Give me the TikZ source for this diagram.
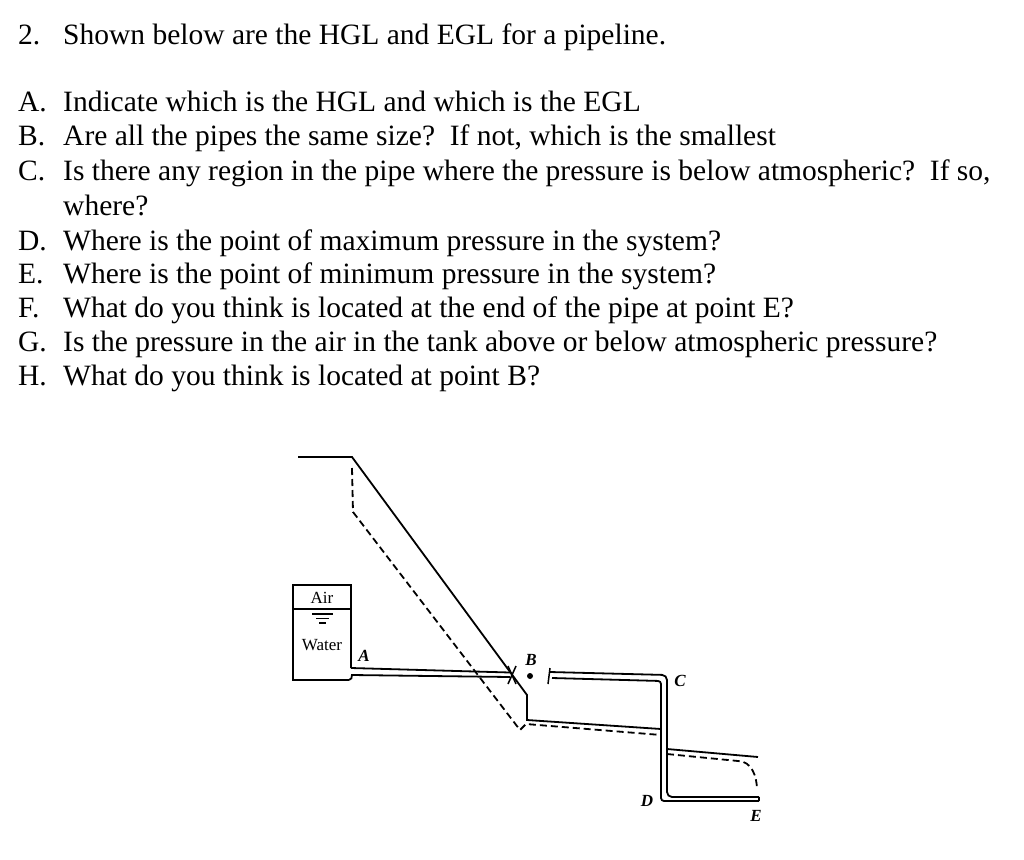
\documentclass[tikz,border=0pt]{standalone}
\usepackage{fontspec}
\setmainfont{Liberation Serif}
\begin{document}
\begin{tikzpicture}[x=1pt,y=-1pt,
  q/.style={anchor=base west,inner sep=0,font=\fontsize{29.5}{29.5}\selectfont},
  lbl/.style={inner sep=0,font=\fontsize{17}{17}\selectfont\itshape\bfseries},
  egl/.style={line width=1.8pt},
  hgl/.style={line width=1.8pt,dash pattern=on 7pt off 4pt},
  pipe/.style={line width=1.8pt}]
\useasboundingbox (0,0) rectangle (1024,859);
\node[q] (n2) at (18,45) {2.};
\node[q] (t2) at (63,45) {Shown below are the HGL and EGL for a pipeline.};
\node[q] (l1) at (18,111) {A.};
\node[q] (t1) at (63,111) {Indicate which is the HGL and which is the EGL};
\node[q] (l2) at (18,145) {B.};
\node[q] (t2b) at (63,145) {Are all the pipes the same size?\ \ If not, which is the smallest};
\node[q] (l3) at (18,180) {C.};
\node[q] (t3) at (63,180) {Is there any region in the pipe where the pressure is below atmospheric?\ \ If so,};
\node[q] (tw) at (63,215) {where?};
\node[q] (l4) at (18,250) {D.};
\node[q] (t4) at (63,250) {Where is the point of maximum pressure in the system?};
\node[q] (l5) at (18,283) {E.};
\node[q] (t5) at (63,283) {Where is the point of minimum pressure in the system?};
\node[q] (l6) at (18,317) {F.};
\node[q] (t6) at (63,317) {What do you think is located at the end of the pipe at point E?};
\node[q] (l7) at (18,351) {G.};
\node[q] (t7) at (63,351) {Is the pressure in the air in the tank above or below atmospheric pressure?};
\node[q] (l8) at (18,385) {H.};
\node[q] (t8) at (63,385) {What do you think is located at point B?};
% tank
\draw[pipe] (351,668) -- (351,585) -- (293,585) -- (293,680) -- (349,680);
\draw[pipe] (293,609) -- (351,609);
\node[inner sep=0,font=\fontsize{17}{17}\selectfont] (air) at (322,598) {Air};
\node[inner sep=0,font=\fontsize{17}{17}\selectfont] (water) at (322,645) {Water};
\draw[line width=1.3pt] (312,614)--(333,614) (316,618.5)--(329,618.5) (319,623)--(326,623);
% pipe A-B
\draw[pipe] (351,668) -- (510,672.5);
\draw[pipe] (349,680) to[out=0,in=-90] (352,675) -- (510,677);
% valve at B
\draw[line width=1.5pt] (508,666) -- (516,684) (516,666) -- (508,684);
\draw[line width=1.5pt] (550,668) -- (548,684);
\fill (530,676) circle (3pt);
% pipe B-C-D-E
\draw[pipe,rounded corners=5pt] (550,672) -- (667,675) -- (667,797) -- (759,797);
\draw[pipe,rounded corners=3pt] (552,678) -- (661,681) -- (661,801) -- (759,801);
\draw[pipe] (759,797) -- (759,801);
% EGL
\draw[egl] (298,457) -- (352,457) -- (527,695) -- (527,720) -- (661,729);
\draw[egl] (667,749) -- (758,757);
% HGL
\draw[hgl] (352,468) -- (353,512) -- (520,730) -- (526,724) -- (661,735);
\draw[hgl] (667,754) -- (738,761) to[out=0,in=90] (757,790);
% labels
\node[lbl] (A) at (364,656) {A};
\node[lbl] (B) at (531,660) {B};
\node[lbl] (C) at (680,681) {C};
\node[lbl] (D) at (647,801) {D};
\node[lbl] (E) at (756,816) {E};
\end{tikzpicture}
\end{document}
